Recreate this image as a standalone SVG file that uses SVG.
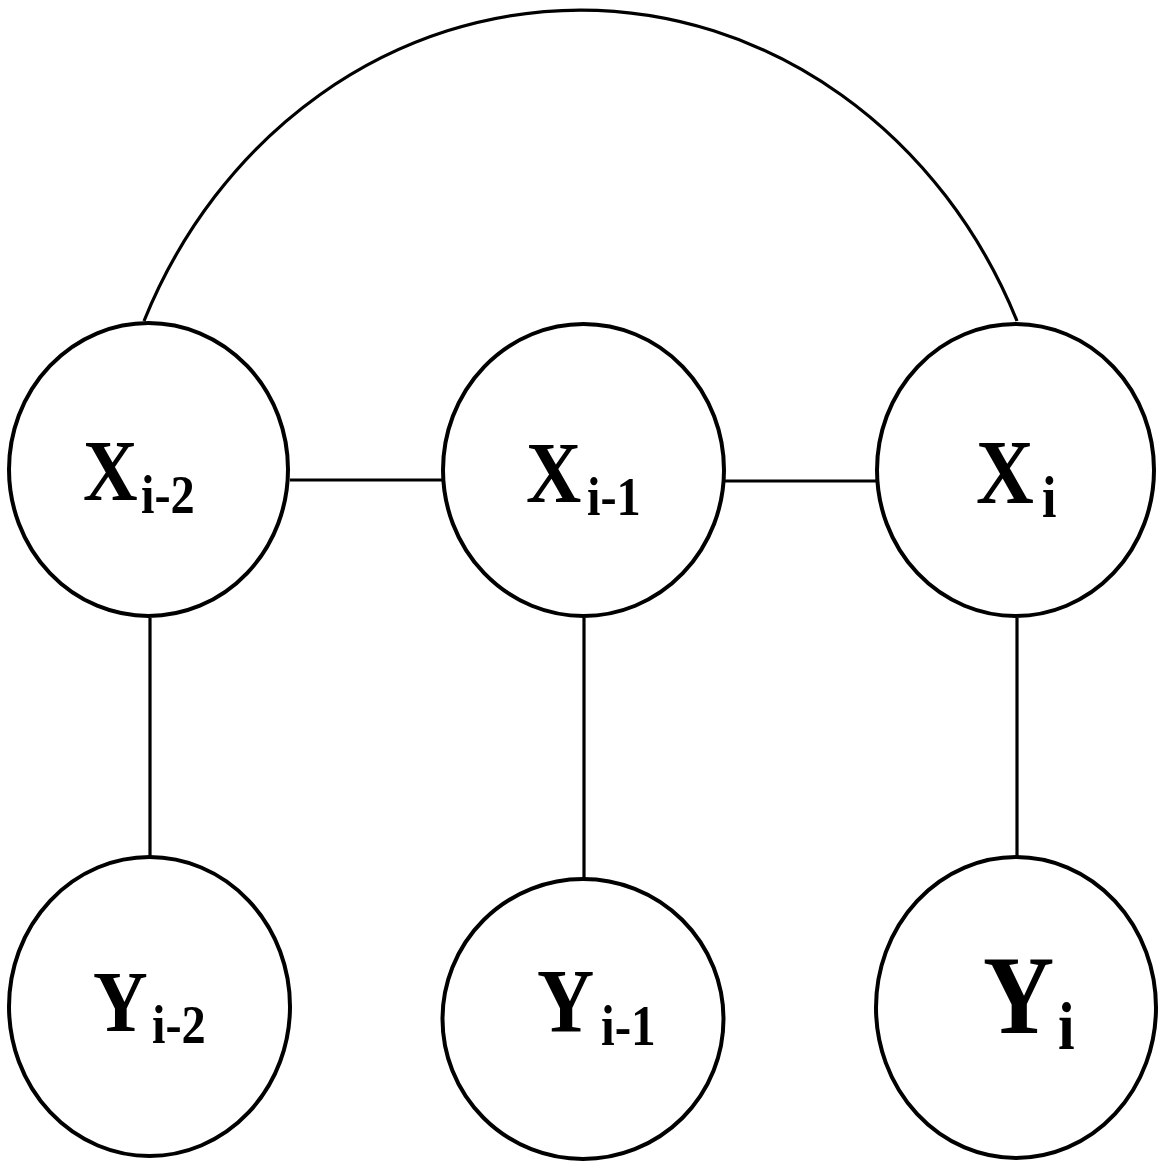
<svg xmlns="http://www.w3.org/2000/svg" width="1165" height="1164" viewBox="0 0 1165 1164">
<style>
.node{fill:#fff;stroke:#000;stroke-width:4}
.edge{fill:none;stroke:#000;stroke-width:3.2}
.lbl{font-family:"Liberation Serif","Times New Roman",serif;font-weight:bold;fill:#000}
</style>
<rect width="1165" height="1164" fill="#fff"/>
<g id="connectors">
<path class="edge" d="M144,321 A477,521 0 0 1 1017,321"/>
<line class="edge" x1="290" y1="480" x2="443" y2="480"/>
<line class="edge" x1="724" y1="481" x2="877" y2="481"/>
<line class="edge" x1="150" y1="618" x2="150" y2="857"/>
<line class="edge" x1="584" y1="618" x2="584" y2="878"/>
<line class="edge" x1="1017" y1="618" x2="1017" y2="857"/>
</g>
<g id="X_i-2">
<ellipse class="node" cx="148.5" cy="469.5" rx="139.5" ry="146.5"/>
<text class="lbl" font-size="86" transform="matrix(0.88 0 0 1 83 500)">X</text>
<text class="lbl" font-size="55" transform="matrix(0.88 0 0 1 141 513)">i-2</text>
</g>
<g id="X_i-1">
<ellipse class="node" cx="583.5" cy="470" rx="140.5" ry="146"/>
<text class="lbl" font-size="87" transform="matrix(0.88 0 0 1 526 502)">X</text>
<text class="lbl" font-size="55" transform="matrix(0.88 0 0 1 587 515)">i-1</text>
</g>
<g id="X_i">
<ellipse class="node" cx="1015.5" cy="470" rx="138.5" ry="146"/>
<text class="lbl" font-size="91" transform="matrix(0.88 0 0 1 976 503)">X</text>
<text class="lbl" font-size="59" transform="matrix(0.88 0 0 1 1042 517)">i</text>
</g>
<g id="Y_i-2">
<ellipse class="node" cx="149.5" cy="1006.5" rx="140.5" ry="149.5"/>
<text class="lbl" font-size="86" transform="matrix(0.88 0 0 1 93 1031)">Y</text>
<text class="lbl" font-size="55" transform="matrix(0.88 0 0 1 152 1043)">i-2</text>
</g>
<g id="Y_i-1">
<ellipse class="node" cx="583" cy="1019" rx="140.5" ry="140"/>
<text class="lbl" font-size="90" transform="matrix(0.88 0 0 1 537 1032)">Y</text>
<text class="lbl" font-size="56" transform="matrix(0.88 0 0 1 601 1045)">i-1</text>
</g>
<g id="Y_i">
<ellipse class="node" cx="1016" cy="1007.5" rx="140" ry="150.5"/>
<text class="lbl" font-size="112" transform="matrix(0.88 0 0 1 983 1033)">Y</text>
<text class="lbl" font-size="68" transform="matrix(0.88 0 0 1 1058 1049)">i</text>
</g>
</svg>
